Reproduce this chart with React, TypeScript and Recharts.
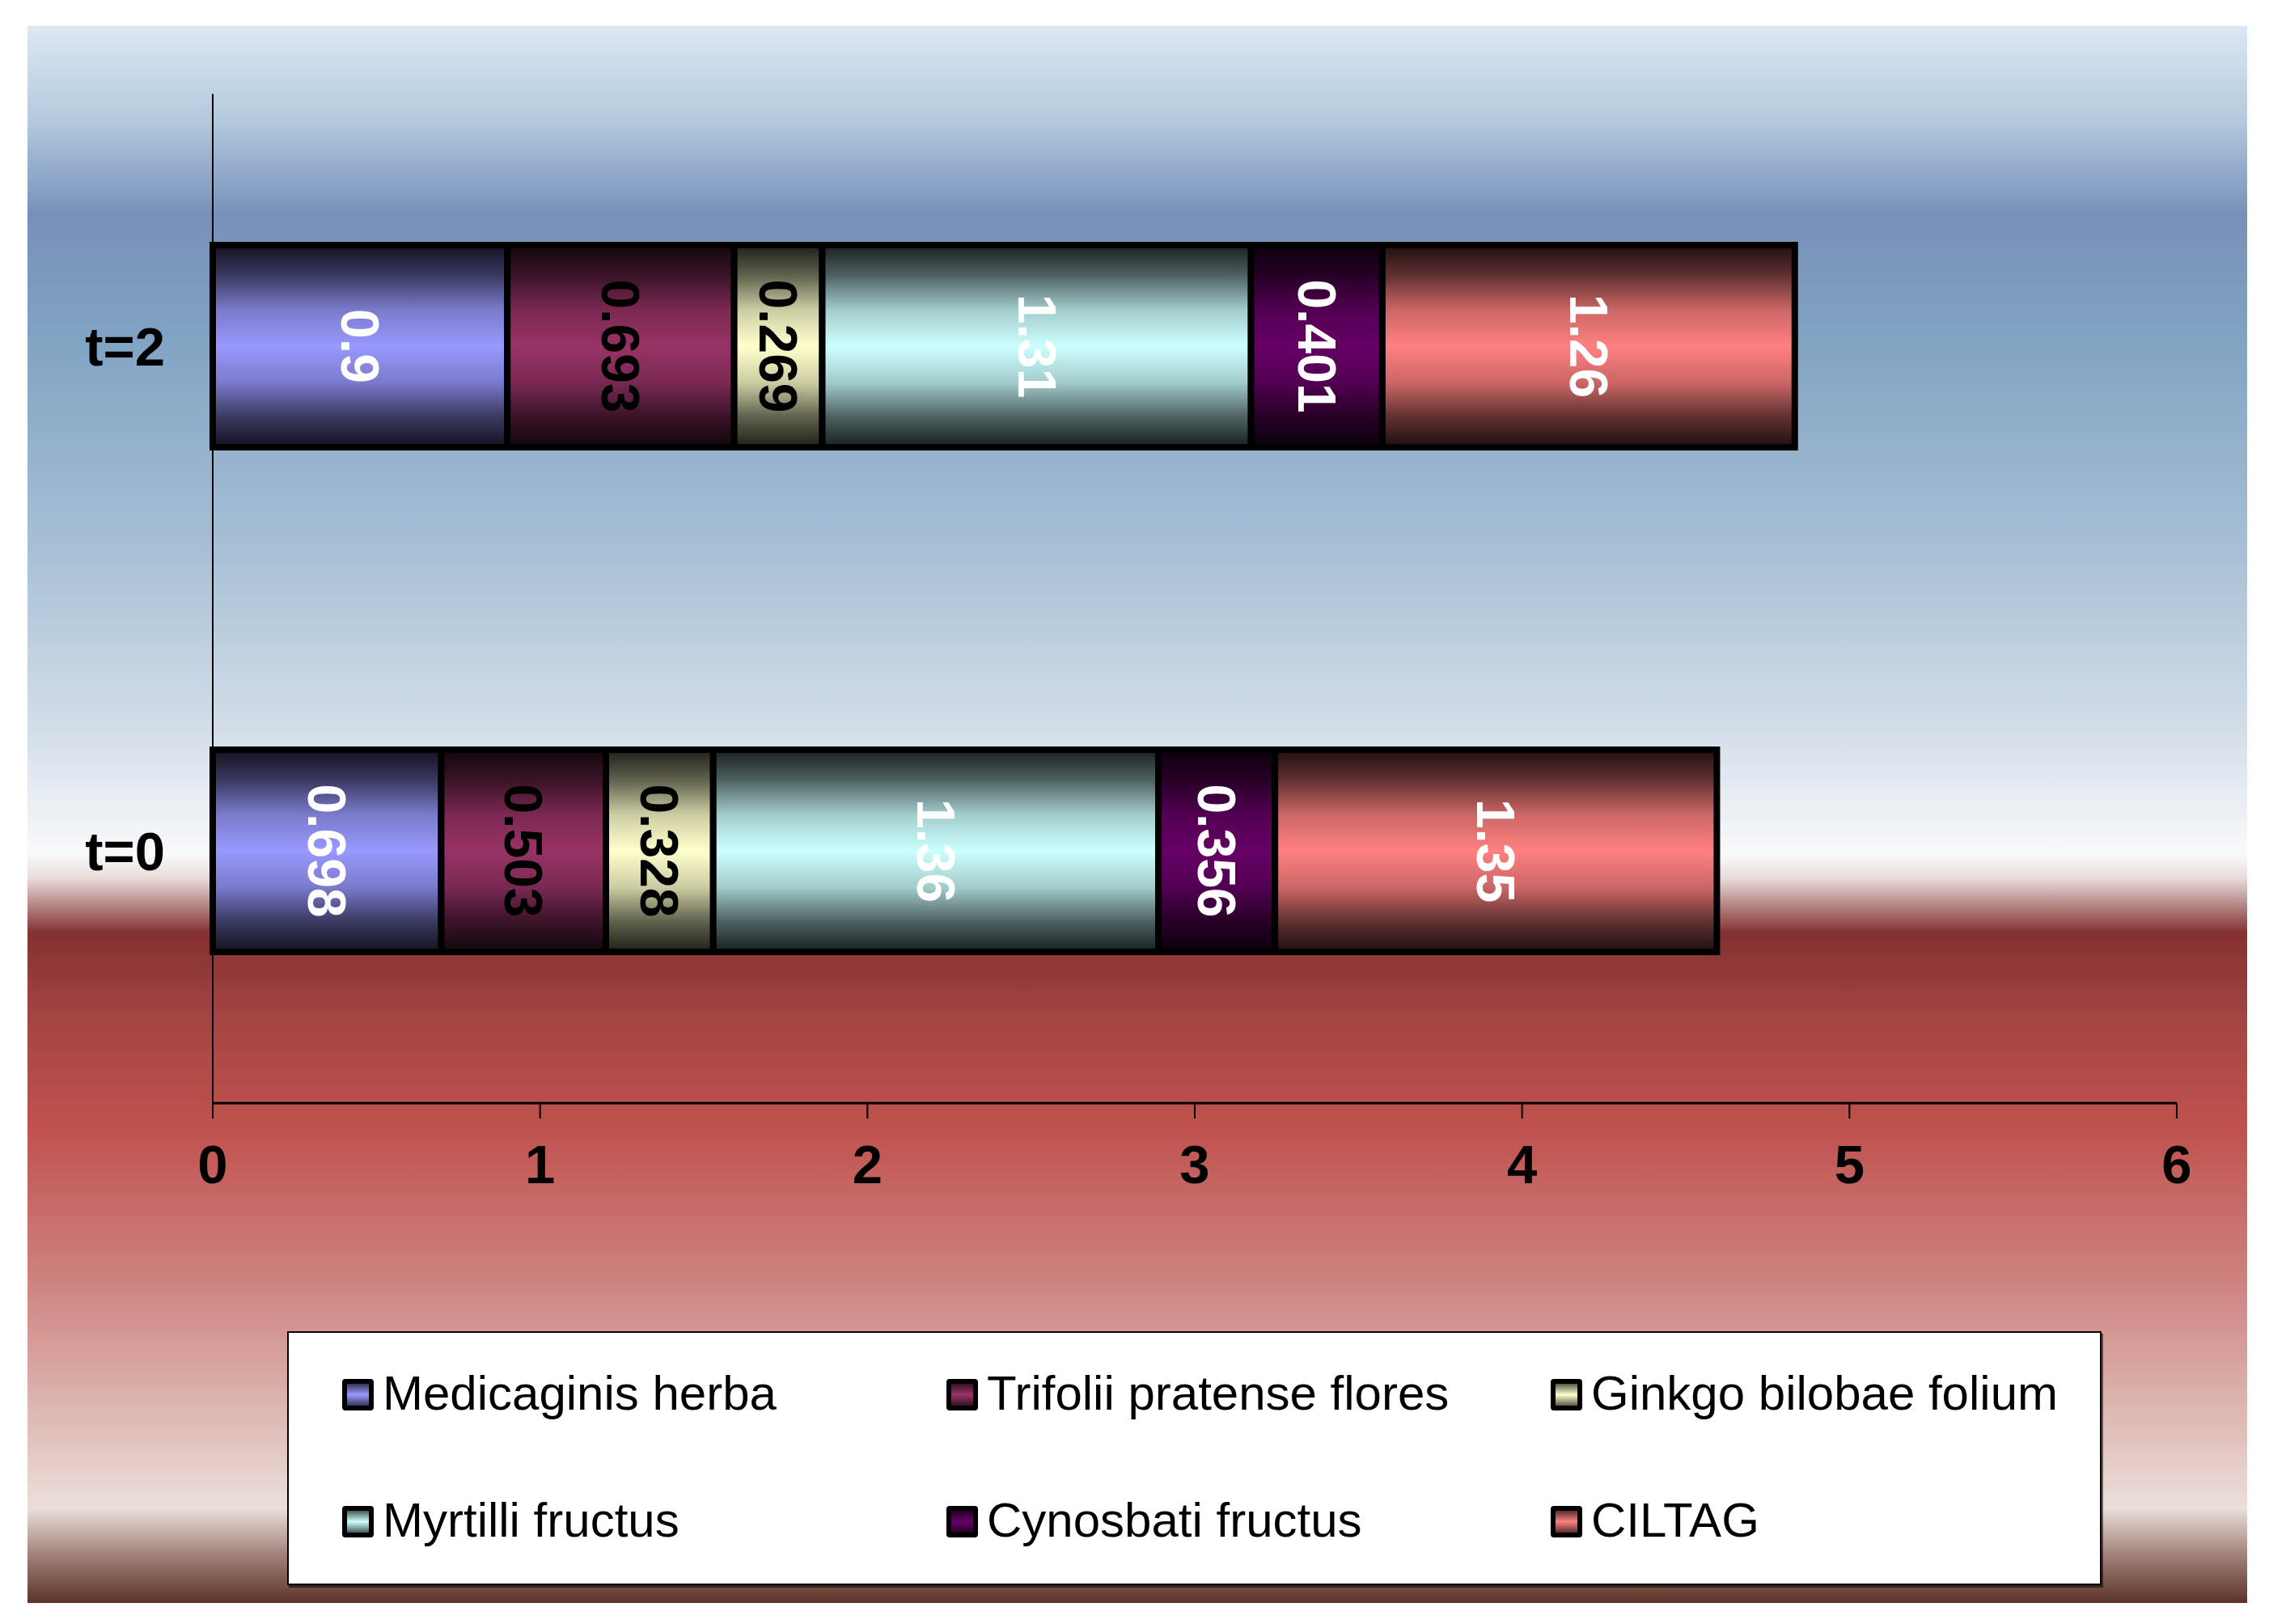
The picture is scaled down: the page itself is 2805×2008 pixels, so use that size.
import {Bar, BarChart, LabelList, Legend, XAxis, YAxis} from "recharts";

const categories = ["t=2", "t=0"];
const seriesNames = [
  "Medicaginis herba",
  "Trifolii pratense flores",
  "Ginkgo bilobae folium",
  "Myrtilli fructus",
  "Cynosbati fructus",
  "CILTAG",
];
const medicaginis = [0.9, 0.698];
const trifolii = [0.693, 0.503];
const ginkgo = [0.269, 0.328];
const myrtilli = [1.31, 1.36];
const cynosbati = [0.401, 0.356];
const ciltag = [1.26, 1.35];
const xTicks = [0, 1, 2, 3, 4, 5, 6];

const seriesValues = [medicaginis, trifolii, ginkgo, myrtilli, cynosbati, ciltag];
const seriesColors = ["#9999ff", "#993366", "#ffffcc", "#ccffff", "#660066", "#ff8080"];
const labelColors = ["#ffffff", "#000000", "#000000", "#ffffff", "#ffffff", "#ffffff"];

const data = categories.map((cat, i) => {
  const row: Record<string, any> = {cat};
  seriesValues.forEach((vals, s) => (row["s" + s] = vals[i]));
  return row;
});

const FONT = "'Liberation Sans', Arial, sans-serif";

// darken a hex colour towards black
function shade(hex: string, f: number) {
  const n = parseInt(hex.slice(1), 16);
  const r = Math.round(((n >> 16) & 255) * f);
  const g = Math.round(((n >> 8) & 255) * f);
  const b = Math.round((n & 255) * f);
  return `rgb(${r},${g},${b})`;
}

const barStops: [number, number][] = [
  [0, 0.12],
  [0.15, 0.38],
  [0.32, 0.8],
  [0.5, 1],
  [0.68, 0.8],
  [0.85, 0.38],
  [1, 0.12],
];

const makeLabel = (color: string) => (props: any) => {
  const {x, y, width, height, value} = props;
  const cx = x + width / 2;
  const cy = y + height / 2;
  return (
    <text
      x={cx}
      y={cy}
      transform={`rotate(90 ${cx} ${cy})`}
      textAnchor="middle"
      dominantBaseline="central"
      fill={color}
      fontSize={66}
      fontWeight="bold"
      fontFamily={FONT}
    >
      {value}
    </text>
  );
};

function renderLegend() {
  return (
    <div
      style={{
        position: "absolute",
        left: 0,
        top: 0,
        width: 2243,
        height: 314,
        boxSizing: "border-box",
        background: "#ffffff",
        border: "2px solid #000",
        boxShadow: "2px 3px 0 rgba(0,0,0,0.55)",
        fontFamily: FONT,
      }}
    >
      {seriesNames.map((name, i) => {
        const col = i % 3;
        const row = Math.floor(i / 3);
        const left = 66 + col * 747;
        const c = seriesColors[i];
        return (
          <div key={name}>
            <div
              style={{
                position: "absolute",
                left,
                top: 57 + row * 157,
                width: 39,
                height: 39,
                boxSizing: "border-box",
                border: "6px solid #000",
                borderRadius: 4,
                background: `linear-gradient(to bottom, ${shade(c, 0.35)}, ${c} 50%, ${shade(c, 0.35)})`,
              }}
            />
            <div
              style={{
                position: "absolute",
                left: left + 50,
                top: 45 + row * 157,
                fontSize: 60,
                lineHeight: "60px",
                whiteSpace: "nowrap",
                color: "#000",
              }}
            >
              {name}
            </div>
          </div>
        );
      })}
    </div>
  );
}

export default function App() {
  return (
    <div style={{position: "absolute", left: 0, top: 0, width: 2805, height: 2008, background: "#fff"}}>
      <div
        style={{
          position: "absolute",
          left: 34,
          top: 32,
          width: 2744,
          height: 1950,
          background:
            "linear-gradient(to bottom, #dce8f3 0%, #b3c9dd 6%, #7790ba 12%, #81a4c3 20%, #a6bfd5 33%, #d4dfe9 45%, #f9fafc 52.5%, #eadcdc 54%, #843131 57.5%, #a44542 63%, #c0524f 70%, #cf8582 80%, #dcb2ad 87%, #ebdfd9 94%, #a08078 97%, #5c3428 100%)",
        }}
      />
      <div style={{position: "absolute", left: 0, top: 0}}>
        <BarChart
          width={2805}
          height={2008}
          data={data}
          layout="vertical"
          margin={{top: 116, right: 114, left: 63, bottom: 544}}
        >
          <defs>
            {seriesColors.map((c, i) => (
              <linearGradient key={i} id={`barGrad${i}`} x1="0" y1="0" x2="0" y2="1">
                {barStops.map(([o, f]) => (
                  <stop key={o} offset={o} stopColor={shade(c, f)} />
                ))}
              </linearGradient>
            ))}
          </defs>
          <XAxis
            type="number"
            domain={[0, 6]}
            ticks={xTicks}
            interval={0}
            height={100}
            axisLine={{stroke: "#000", strokeWidth: 3}}
            tickLine={{stroke: "#000", strokeWidth: 2}}
            tickSize={19}
            tickMargin={32}
            tick={{fill: "#000", fontSize: 67, fontWeight: "bold", fontFamily: FONT}}
          />
          <YAxis
            type="category"
            dataKey="cat"
            width={200}
            axisLine={{stroke: "#000", strokeWidth: 2}}
            tickLine={false}
            tickSize={0}
            tickMargin={59}
            tick={{fill: "#000", fontSize: 67, fontWeight: "bold", fontFamily: FONT}}
          />
          <Legend content={renderLegend} wrapperStyle={{left: 355, top: 1646, width: 0, height: 0}} />
          {seriesNames.map((name, i) => (
            <Bar
              key={name}
              dataKey={"s" + i}
              name={name}
              stackId="a"
              barSize={250}
              fill={`url(#barGrad${i})`}
              stroke="#000"
              strokeWidth={8}
              isAnimationActive={false}
            >
              <LabelList dataKey={"s" + i} content={makeLabel(labelColors[i])} />
            </Bar>
          ))}
        </BarChart>
      </div>
    </div>
  );
}
